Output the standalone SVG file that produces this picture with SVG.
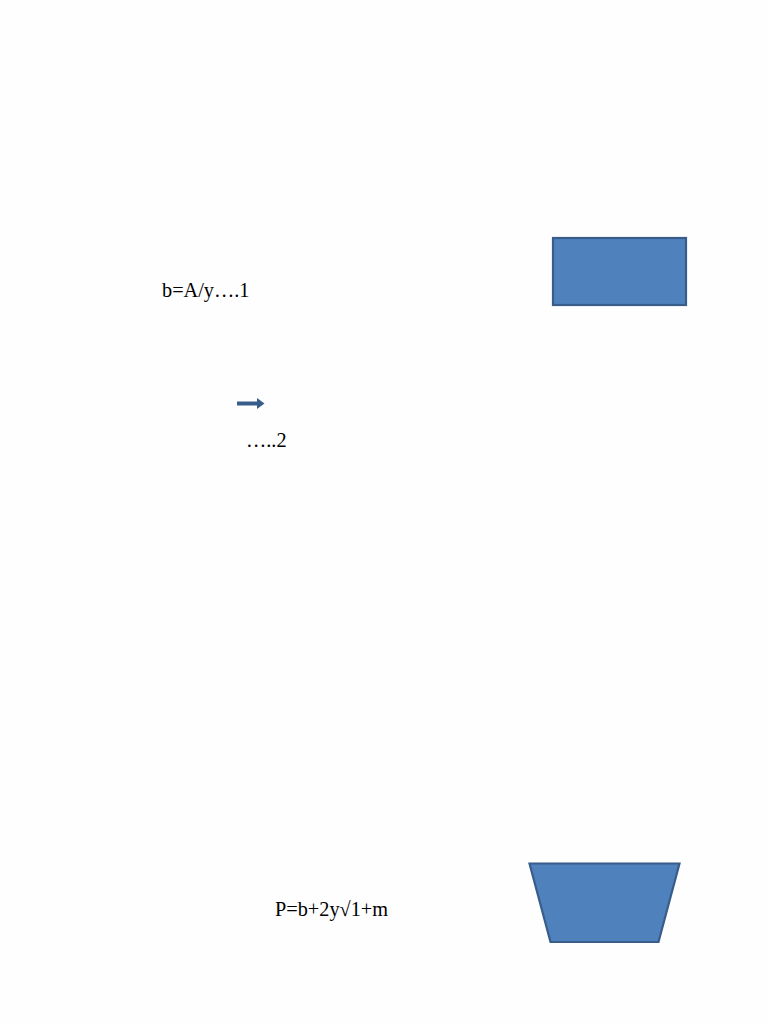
<svg xmlns="http://www.w3.org/2000/svg" width="768" height="1024" viewBox="0 0 768 1024">
<style>
.t{font-family:"Liberation Serif","Times New Roman",serif;font-size:20.3px;fill:#000}
.s{fill:#4F81BD;stroke:#385D8A;stroke-width:2.2}
</style>
<rect width="768" height="1024" fill="#fefefe"/>
<g id="rect-node"><rect class="s" x="553" y="238" width="133" height="67"/></g>
<g id="trap-node"><polygon class="s" points="529.5,863.5 679.5,863.5 658.5,942 550.5,942"/></g>
<g id="connectors">
<line x1="237" y1="403.5" x2="258" y2="403.5" stroke="#385D8A" stroke-width="4"/>
<polygon points="257,398 264.5,403.5 257,409" fill="#385D8A"/>
</g>
<g id="labels">
<text class="t" x="162" y="297">b=A/y….1</text>
<text class="t" x="246" y="447">…..2</text>
<text class="t" x="275" y="916">P=b+2y√1+m</text>
</g>
</svg>
